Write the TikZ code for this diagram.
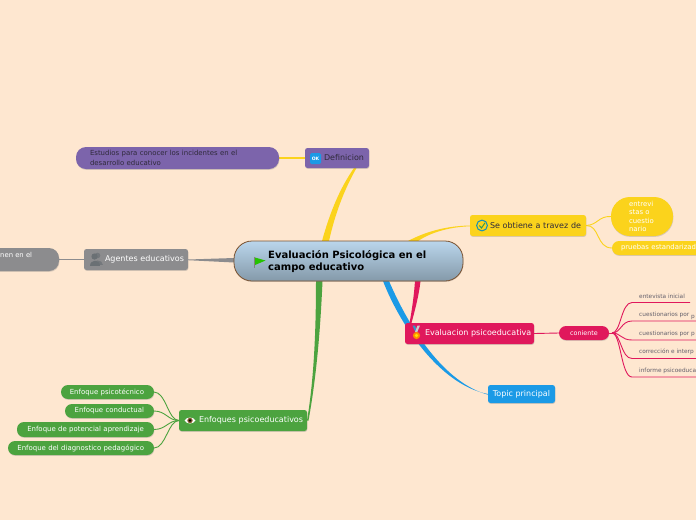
\documentclass[tikz,border=0pt]{standalone}
\usepackage{fontspec}
\setmainfont{DejaVu Sans}
\usetikzlibrary{calc,shadows,shapes.geometric}
\pgfdeclarelayer{bgl}
\pgfdeclarelayer{links}
\pgfsetlayers{bgl,links,main}
\newcommand\fsz[1]{\fontsize{#1}{#1}\selectfont}
\definecolor{bg}{HTML}{FEE7D0}
\definecolor{cyel}{HTML}{FBD31C}
\definecolor{cpur}{HTML}{7C64AB}
\definecolor{cgry}{HTML}{8C8C8E}
\definecolor{cred}{HTML}{E0185C}
\definecolor{cblu}{HTML}{1B9AE6}
\definecolor{cgrn}{HTML}{4CA33F}
\definecolor{ctxt}{HTML}{2F2A3A}
\definecolor{rtop}{HTML}{BAD6EC}
\definecolor{rbot}{HTML}{8499A9}
\definecolor{rbrd}{HTML}{7A5230}
\definecolor{cppl}{HTML}{6A7074}
\tikzset{
 boxbase/.style={rectangle,inner sep=0pt,outer sep=0pt,drop shadow={shadow xshift=0.4pt,shadow yshift=-0.9pt,opacity=.3}},
 topicbox/.style={boxbase,rounded corners=2.5pt,font=\fsz{8}},
 pillbox/.style={boxbase,rounded corners=7pt},
 enfpill/.style={pillbox,fill=cgrn,minimum height=14pt,text=white,font=\fsz{6.95},align=right},
 leaftext/.style={inner sep=0pt,anchor=base west,font=\fsz{5.8},text=ctxt!75!white},
 sublink/.style={line width=0.9pt},
}
\begin{document}
\begin{tikzpicture}[x=1pt,y=-1pt]
\useasboundingbox (0,0) rectangle (696,520);
\begin{pgfonlayer}{bgl}
\fill[bg] (0,0) rectangle (696,520);
\end{pgfonlayer}
% ---------- nodes
\node[topicbox,fill=cpur,minimum height=20pt,text=ctxt,text width=64pt,align=left] (defn) at (337,158) {\hspace*{19pt}Definicion};
\node[pillbox,fill=cpur,rounded corners=10pt,minimum height=22pt,text=ctxt,text width=203pt,align=left,font=\fsz{6.95}\linespread{1.36}\selectfont] (estudios) at (177.5,158) {\hspace*{14pt}Estudios para conocer los incidentes en el\\\hspace*{14pt}desarrollo educativo};
\node[topicbox,fill=cgry,minimum height=21pt,text=white,text width=104pt,align=left] (agentes) at (136,259.5) {\hspace*{21pt}Agentes educativos};
\node[pillbox,fill=cgry,rounded corners=10pt,minimum width=79pt,minimum height=23pt] (agleaf) at (19.5,259.5) {};
\node[inner sep=0pt,anchor=west,text=white,font=\fsz{6.85}] (agtext) at (0,255) {nen en el};
\node[topicbox,fill=cyel,minimum height=21pt,text=ctxt,text width=116pt,align=left] (obt) at (528,225.5) {\hspace*{20pt}Se obtiene a travez de};
\node[pillbox,fill=cyel,rounded corners=19pt,minimum width=62pt,minimum height=39pt,text=white,text width=26pt,align=left,font=\fsz{6.9}\linespread{1.22}\selectfont] (entre) at (642,216.5) {entrevi\\stas o\\cuestio\\nario};
\node[pillbox,fill=cyel,minimum height=14pt,text=white,text width=120pt,align=left,font=\fsz{6.9}] (prueb) at (672,248) {\hspace*{9pt}pruebas estandarizad};
\node[topicbox,fill=cred,minimum height=21pt,text=white,text width=129pt,align=left] (psico) at (469.5,333.5) {\hspace*{20pt}Evaluacion psicoeducativa};
\node[pillbox,fill=cred,minimum width=50pt,minimum height=14pt,text=white,font=\fsz{6.4}] (coni) at (584,333) {coniente};
\node[topicbox,fill=cblu,minimum width=67pt,minimum height=18pt,text=white] (topic) at (521.5,394) {Topic principal};
\node[topicbox,fill=cgrn,minimum height=21pt,text=white,text width=128pt,align=left] (enf) at (243,420.5) {\hspace*{20pt}Enfoques psicoeducativos};
\node[enfpill,text width=93pt] (e1) at (107.5,392) {Enfoque psicotécnico\hspace*{10pt}};
\node[enfpill,text width=89pt] (e2) at (109.5,411) {Enfoque conductual\hspace*{10pt}};
\node[enfpill,text width=137pt,minimum height=15pt] (e3) at (85.5,429.5) {Enfoque de potencial aprendizaje\hspace*{10pt}};
\node[enfpill,text width=146pt] (e4) at (81,448) {Enfoque del diagnostico pedagógico\hspace*{10pt}};
\node[boxbase,rounded corners=18pt,minimum width=229pt,minimum height=40pt,top color=rtop,bottom color=rbot,draw=rbrd,line width=0.8pt] (root) at (348.5,261) {};
\node[inner sep=0pt,anchor=west,align=left,font=\fsz{10}\bfseries\linespread{1.2}\selectfont,text=black] (roottext) at (268,261.5) {Evaluación Psicológica en el\\campo educativo};
% ---------- icons
\fill[cblu,rounded corners=1.5pt] (310,153) rectangle (321,164);
\node[inner sep=0pt,text=white,font=\fsz{4.6}\bfseries] (oktext) at (315.5,158.5) {OK};
% flag
\draw[gray,line width=0.9pt] (254.7,257) -- (254.7,268);
\fill[green!70!black!80!lime] (255,257.5) -- (265.5,260.5) -- (255,265) -- cycle;
% people
\fill[cppl!70!cgry] (97.5,255.5) circle (2.8);
\fill[cppl!70!cgry] (92,265) .. controls (92,259) and (103,259) .. (103,265) -- cycle;
\fill[cppl] (94.5,256.5) circle (3.1);
\fill[cppl] (89.5,265.5) .. controls (89.5,259) and (100,259) .. (100,265.5) -- cycle;
% check
\draw[cblu!60!teal,line width=1pt] (482,225.5) circle (5.4);
\draw[cgrn!70!teal,line width=1pt] (479.3,225.5) -- (481.5,228) -- (485,222.8);
% medal
\fill[cblu!70!gray] (412.5,325.5) -- (415,325.5) -- (417.5,332) -- (415.5,332.5) -- cycle;
\fill[gray!40] (420,325.5) -- (417.5,325.5) -- (415,332) -- (417,332.5) -- cycle;
\fill[orange!90!yellow] (416.5,335.5) circle (3.6);
\fill[yellow!85!orange] (416.5,335.5) circle (1.8);
% eye
\fill[white] (184.5,420.5) .. controls (187,416.5) and (193,416.5) .. (195.5,420.5) .. controls (193,424.5) and (187,424.5) .. (184.5,420.5) -- cycle;
\fill[brown!70!black] (190,420.5) circle (2.7);
\fill[black] (190,420.5) circle (1.3);
% ---------- leaf labels
\coordinate (junc) at ($(coni.east)+(3,0)$);
\node[leaftext] (l1) at (639,298) {entevista inicial};
\node[leaftext] (l2) at (639,316) {cuestionarios por \raisebox{-2pt}{p}};
\node[leaftext] (l3) at (639,335) {cuestionarios por p};
\node[leaftext] (l4) at (639,353) {corrección e interp};
\node[leaftext] (l5) at (639,372) {informe psicoeduca};
\coordinate (u1) at (690,302.5);
\coordinate (u2) at (697,321);
\coordinate (u3) at (697,340);
\coordinate (u4) at (697,358.5);
\coordinate (u5) at (697,377);
% ---------- connectors
\begin{pgfonlayer}{links}
% tapered main branches
\fill[cyel] ($(root.north)+(-26.5,0)$) .. controls (330,212) and (340,188) .. ($(defn.south)+(17,0)$) -- ($(defn.south)+(19.5,0)$) .. controls (344,190) and (335,214) .. ($(root.north)+(-19.5,0)$) -- cycle;
\fill[cyel] ($(root.north)+(59.5,0)$) .. controls (425,232) and (445,226) .. (obt.west) -- ($(obt.west)+(0,0.8)$) .. controls (448,227) and (430,233) .. ($(root.north)+(69.5,0)$) -- cycle;
\fill[cblu] ($(root.south)+(34.5,0)$) .. controls (400,325) and (440,385) .. (topic.west) -- ($(topic.west)+(0,0.7)$) .. controls (445,383) and (410,330) .. ($(root.south)+(40.5,0)$) -- cycle;
\fill[cred] ($(root.south)+(66.5,0)$) .. controls (414,295) and (412,310) .. ($(psico.north)+(-60,0)$) -- ($(psico.north)+(-58,0)$) .. controls (415,310) and (419,295) .. ($(root.south)+(72,0)$) -- cycle;
\fill[cgrn] ($(root.south)+(-32.5,0)$) .. controls (316,340) and (313,385) .. (enf.east) -- ($(enf.east)+(1.5,0)$) .. controls (315,385) and (320,340) .. ($(root.south)+(-26,0)$) -- cycle;
\fill[cgry] (agentes.east) -- ($(root.west)+(0,-3)$) -- ($(root.west)+(0,1.5)$) -- ($(agentes.east)+(0,0.7)$) -- cycle;
% thin links
\draw[cyel,line width=1.2pt] (estudios.east) -- (defn.west);
\draw[cgry,sublink] (agleaf.east) -- (agentes.west);
\draw[cyel,sublink] (obt.east) .. controls (598,225) and (598,216) .. (entre.west);
\draw[cyel,sublink] (obt.east) .. controls (600,225) and (596,248) .. (prueb.west);
\draw[cred,sublink] (psico.east) -- (coni.west);
\draw[cred,sublink] (coni.east) -- (junc);
\foreach \u/\yy in {u1/302.5,u2/321,u3/340,u4/358.5,u5/377}{
 \draw[cred,sublink] (junc) .. controls (621,333) and (621,\yy) .. (632,\yy) -- (\u);
}
\foreach \e/\yy in {e1/392,e2/411,e3/429.5,e4/448}{
 \draw[cgrn,sublink] (enf.west) .. controls (168,420.5) and (166,\yy) .. (\e.east);
}
\end{pgfonlayer}
\end{tikzpicture}
\end{document}
